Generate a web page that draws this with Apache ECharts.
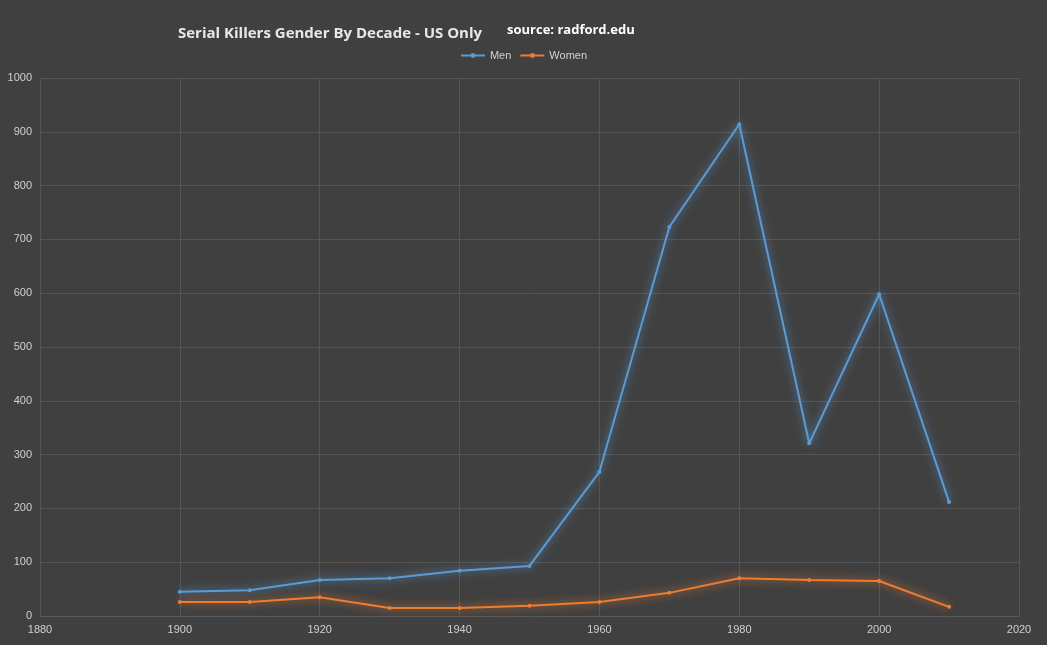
<!DOCTYPE html>
<html><head><meta charset="utf-8">
<script src="https://cdn.jsdelivr.net/npm/echarts@6/dist/echarts.min.js"></script>
<style>html,body{margin:0;padding:0;background:#404040}#c{width:1047px;height:645px}</style>
</head><body><div id="c"></div>
<script>
const decades = [1900,1910,1920,1930,1940,1950,1960,1970,1980,1990,2000,2010];
const men =   [45,48,67,70,84,93,268,723,914,321,598,212];
const women = [26,26,35,15,15,19,26,43,70,67,65,17];
const chart = echarts.init(document.getElementById('c'));
const mk = (name, vals, color) => ({
  name, type:'line', data: decades.map((d,i)=>[d, vals[i]]),
  symbol:'circle', symbolSize:4, itemStyle:{color},
  lineStyle:{color, width:2, shadowColor:color, shadowBlur:8}
});
chart.setOption({
  backgroundColor:'#404040',
  title:{text:'Serial Killers Gender By Decade - US Only', left:173, top:21,
    textStyle:{color:'#e8e8e8', fontSize:15, fontWeight:'bold', fontFamily:'Open Sans'}},
  graphic:[{type:'text', left:507, top:24, style:{text:'source: radford.edu', fill:'#ffffff', font:'bold 13px "Open Sans"'}}],
  legend:{top:45, left:'center', itemWidth:24, itemHeight:6, textStyle:{color:'#d0d0d0', fontSize:11},
    data:['Men','Women']},
  grid:{left:40, right:28, top:78, bottom:29},
  xAxis:{type:'value', min:1880, max:2020, interval:20,
    axisLine:{lineStyle:{color:'#5a5a5a'}}, axisTick:{show:false},
    axisLabel:{color:'#d0d0d0', fontSize:11, formatter:v=>String(v)},
    splitLine:{show:true, lineStyle:{color:'#555555'}}},
  yAxis:{type:'value', min:0, max:1000, interval:100,
    axisLine:{show:false}, axisTick:{show:false},
    axisLabel:{color:'#d0d0d0', fontSize:11, formatter:v=>String(v)},
    splitLine:{lineStyle:{color:'#555555'}}},
  series:[mk('Men', men, '#5b9bd5'), mk('Women', women, '#ed7d31')]
});
</script></body></html>
